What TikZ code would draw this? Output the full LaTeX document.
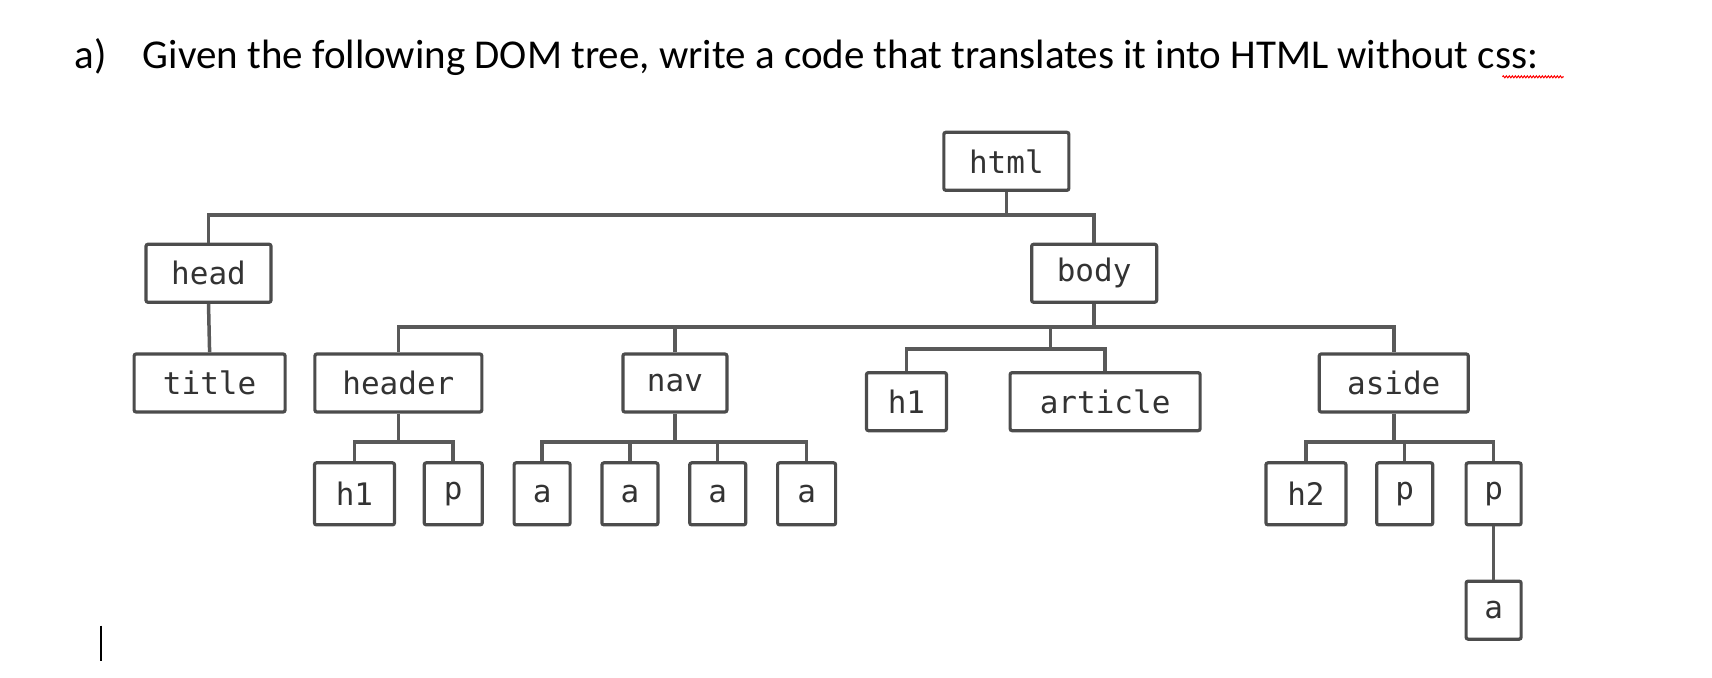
\documentclass[tikz,border=0pt]{standalone}
\usepackage{fontspec}
\usetikzlibrary{decorations.pathmorphing}
\setmainfont{Carlito}
\newfontfamily\boxfont{DejaVu Sans Mono}
\begin{document}
\begin{tikzpicture}[x=1.0975pt,y=-1.0975pt,
  bx/.style={draw=black!70,line width=3.2pt,rounded corners=2pt,fill=white,minimum height=58pt,inner xsep=0pt,font=\boxfont\fontsize{31}{31}\selectfont,text=black!80},
  ln/.style={draw=black!65,line width=3.5pt}]
\useasboundingbox (0,0) rectangle (1560,617.8);
\node[anchor=base west,font=\fontsize{41}{41}\selectfont,inner sep=0pt] (q) at (68,62) {a)\hspace{36pt}Given the following DOM tree, write a code that translates it into HTML without css:};
\draw[red,line width=1pt,decorate,decoration={snake,amplitude=1pt,segment length=3pt}] (1369,70) -- (1425,70);
\draw[line width=1.5pt] (92,570) -- (92,602);
\node[bx,minimum width=125pt] (html) at (917,147) {html};
\node[bx,minimum width=125pt] (head) at (190,249) {head};
\node[bx,minimum width=125pt] (body) at (997,249) {body};
\node[bx,minimum width=151pt] (title) at (191,349) {title};
\node[bx,minimum width=167pt] (header) at (363,349) {header};
\node[bx,minimum width=104pt] (nav) at (615,349) {nav};
\node[bx,minimum width=80pt] (h1b) at (826,366) {h1};
\node[bx,minimum width=190pt] (article) at (1007,366) {article};
\node[bx,minimum width=149pt] (aside) at (1270,349) {aside};
\node[bx,minimum width=80pt,minimum height=62pt] (h1h) at (323,450) {h1};
\node[bx,minimum width=58pt,minimum height=62pt] (p1) at (413,450) {p};
\node[bx,minimum width=56pt,minimum height=62pt] (a1) at (494,450) {a};
\node[bx,minimum width=56pt,minimum height=62pt] (a2) at (574,450) {a};
\node[bx,minimum width=56pt,minimum height=62pt] (a3) at (654,450) {a};
\node[bx,minimum width=58pt,minimum height=62pt] (a4) at (735,450) {a};
\node[bx,minimum width=80pt,minimum height=62pt] (h2) at (1190,450) {h2};
\node[bx,minimum width=56pt,minimum height=62pt] (p2) at (1280,450) {p};
\node[bx,minimum width=55pt,minimum height=62pt] (p3) at (1361,450) {p};
\node[bx,minimum width=55pt,minimum height=58pt] (a5) at (1361,556) {a};
\draw[ln] (html.south) -- ++(0,21) coordinate (j1);
\draw[ln] (head.north) |- (j1) -| (body.north);
\draw[ln] (head.south) -- (title.north);
\draw[ln] (body.south) -- ++(0,21) coordinate (j2);
\draw[ln] (header.north) |- (j2) -| (aside.north);
\draw[ln] (nav.north) -- (nav.north|-j2);
\draw[ln] (957,297) -- (957,318) coordinate (j3);
\draw[ln] (h1b.north) |- (j3) -| (article.north);
\draw[ln] (header.south) -- ++(0,26) coordinate (j4);
\draw[ln] (h1h.north) |- (j4) -| (p1.north);
\draw[ln] (nav.south) -- ++(0,26) coordinate (j5);
\draw[ln] (a1.north) |- (j5) -| (a4.north);
\draw[ln] (a2.north) -- (a2.north|-j5);
\draw[ln] (a3.north) -- (a3.north|-j5);
\draw[ln] (aside.south) -- ++(0,26) coordinate (j6);
\draw[ln] (h2.north) |- (j6) -| (p3.north);
\draw[ln] (p2.north) -- (p2.north|-j6);
\draw[ln] (p3.south) -- (a5.north);
\end{tikzpicture}
\end{document}
